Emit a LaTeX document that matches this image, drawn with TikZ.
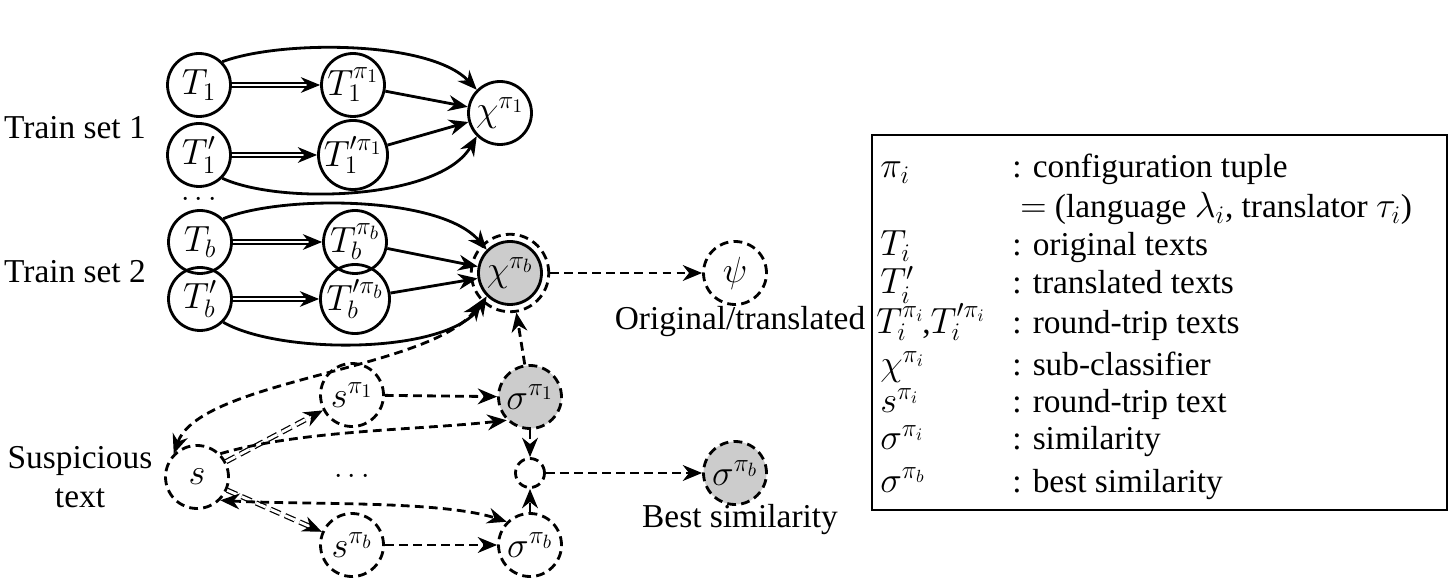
\documentclass[tikz,border=0pt]{standalone}
\usepackage{fontspec}
\setmainfont{Liberation Serif}
\newfontfamily\tms{Liberation Serif}
\usetikzlibrary{arrows.meta}
\newcommand{\bm}[1]{{\fontsize{20}{22}\selectfont$#1$}}
\begin{document}
\begin{tikzpicture}[x=0.02cm,y=-0.02cm,
  every node/.style={font=\tms\fontsize{19}{22}\selectfont},
  nd/.style={circle,draw,line width=1.6pt,minimum size=1.26cm,inner sep=0pt,font=\fontsize{21}{24}\selectfont},
  dn/.style={nd,dashed,dash pattern=on 5pt off 3pt},
  ar/.style={line width=1.6pt,-{Stealth[length=11pt,width=9pt]}},
  da/.style={ar,dash pattern=on 5pt off 3pt},
  db/.style={line width=0.7pt,double,double distance=1.6pt,-{Stealth[length=11pt,width=9pt]}},
  dbd/.style={db,dash pattern=on 6pt off 3pt},
  lg/.style={anchor=base west,inner sep=0pt}]
\useasboundingbox (0,0) rectangle (1453,580);
% top group
\node[nd] (T1) at (199,85) {$T_1$};
\node[nd] (T1p) at (353,85) {$T_1^{\pi_1}$};
\node[nd] (Tq1) at (199,155) {$T_1'$};
\node[nd] (Tq1p) at (353,155) {$T'^{\pi_1}_1$};
\node[nd] (c1) at (500,113) {$\chi^{\pi_1}$};
\node (d1) at (199,200) {$\cdots$};
\node[nd] (Tb) at (200,242) {$T_b$};
\node[nd] (Tbp) at (355,242) {$T_b^{\pi_b}$};
\node[nd] (Tqb) at (200,299) {$T_b'$};
\node[nd] (Tqbp) at (355,299) {$T'^{\pi_b}_b$};
\node[nd,fill=black!20] (cb) at (510,273) {$\chi^{\pi_b}$};
\node[dn,minimum size=1.55cm] (cbo) at (510,273) {};
\node[dn] (psi) at (735,273) {$\psi$};
\node (ot) at (740,322) {Original/translated};
\node (ts1) at (75,128) {Train set 1};
\node (ts2) at (75,272) {Train set 2};
\node[align=center] (st) at (80,477) {Suspicious\\text};
% bottom group
\node[dn] (s) at (197,477) {$s$};
\node[dn] (s1) at (352,395) {$s^{\pi_1}$};
\node[dn,fill=black!20] (g1) at (530,397) {$\sigma^{\pi_1}$};
\node[dn,minimum size=0.58cm] (m) at (530,473) {};
\node (d2) at (352,477) {$\cdots$};
\node[dn] (sb) at (352,545) {$s^{\pi_b}$};
\node[dn] (gb) at (530,545) {$\sigma^{\pi_b}$};
\node[dn,fill=black!20] (gbest) at (735,473) {$\sigma^{\pi_b}$};
\node (bs) at (740,520) {Best similarity};
% edges
\draw[db] (T1) -- (T1p); \draw[db] (Tq1) -- (Tq1p);
\draw[db] (Tb) -- (Tbp); \draw[db] (Tqb) -- (Tqbp);
\draw[ar] (T1p) -- (c1); \draw[ar] (Tq1p) -- (c1);
\draw[ar] (T1.north east) .. controls (280,40) and (430,40) .. (c1.north west);
\draw[ar] (Tq1.south east) .. controls (280,205) and (440,200) .. (c1.south west);
\draw[ar] (Tbp) -- (cb); \draw[ar] (Tqbp) -- (cb);
\draw[ar] (Tb.north east) .. controls (280,195) and (440,195) .. (cb.north west);
\draw[ar] (Tqb.south east) .. controls (280,355) and (450,355) .. (cb.south west);
\draw[da] (cbo) -- (psi);
\draw[da] (g1) -- (cbo);
\draw[da,{Stealth[length=11pt,width=9pt]}-{Stealth[length=11pt,width=9pt]}] (s.north west) .. controls (200,380) and (430,370) .. (cbo.south west);
\draw[dbd] (s) -- (s1);
\draw[dbd] (s) -- (sb);
\draw[da] (s1) -- (g1);
\draw[da] (sb) -- (gb);
\draw[da] (s.north east) .. controls (300,430) and (420,430) .. (g1.south west);
\draw[da,{Stealth[length=11pt,width=9pt]}-{Stealth[length=11pt,width=9pt]}] (s.south east) .. controls (300,505) and (440,500) .. (gb.north west);
\draw[da] (g1) -- (m);
\draw[da] (gb) -- (m);
\draw[da] (m) -- (gbest);
% legend
\draw[line width=1pt] (872,135) rectangle (1447,510);
\node[lg] (l1) at (880,178) {\bm{\pi_i}};
\node[lg] (r1) at (1012,178) {: configuration tuple};
\node[lg] (r1b) at (1020,218) {\bm{=} (language \bm{\lambda_i}, translator \bm{\tau_i})};
\node[lg] (l2) at (880,256) {\bm{T_i}};
\node[lg] (r2) at (1012,256) {: original texts};
\node[lg] (l3) at (880,294) {\bm{T_i'}};
\node[lg] (r3) at (1012,294) {: translated texts};
\node[lg] (l4) at (876,334) {\bm{T_i^{\pi_i}}\kern-1pt,\bm{T'^{\pi_i}_i}};
\node[lg] (r4) at (1012,334) {: round-trip texts};
\node[lg] (l5) at (880,376) {\bm{\chi^{\pi_i}}};
\node[lg] (r5) at (1012,376) {: sub-classifier};
\node[lg] (l6) at (880,413) {\bm{s^{\pi_i}}};
\node[lg] (r6) at (1012,413) {: round-trip text};
\node[lg] (l7) at (880,450) {\bm{\sigma^{\pi_i}}};
\node[lg] (r7) at (1012,450) {: similarity};
\node[lg] (l8) at (880,492) {\bm{\sigma^{\pi_b}}};
\node[lg] (r8) at (1012,492) {: best similarity};
\end{tikzpicture}
\end{document}
